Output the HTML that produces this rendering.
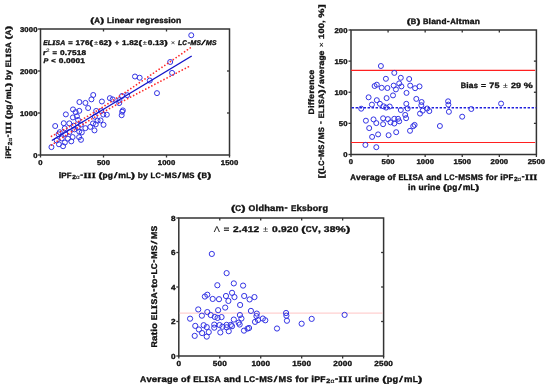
<!DOCTYPE html>
<html><head><meta charset="utf-8"><title>Figure</title>
<style>
html,body{margin:0;padding:0;background:#fff;width:550px;height:387px;overflow:hidden;}
svg{display:block;will-change:transform;}
</style></head><body>
<svg width="550" height="387" viewBox="0 0 550 387" font-family='"Liberation Sans", sans-serif' fill="#111">
<style>text{stroke:#111;stroke-width:0.34px;paint-order:stroke;text-rendering:geometricPrecision;}</style>
<rect width="550" height="387" fill="#fff"/>
<rect x="40.50" y="29.00" width="189.00" height="126.00" fill="none" stroke="#333333" stroke-width="1.5"/>
<line x1="38.00" y1="155.00" x2="40.50" y2="155.00" stroke="#333333" stroke-width="1.3"/>
<line x1="38.00" y1="113.00" x2="40.50" y2="113.00" stroke="#333333" stroke-width="1.3"/>
<line x1="38.00" y1="71.00" x2="40.50" y2="71.00" stroke="#333333" stroke-width="1.3"/>
<line x1="38.00" y1="29.00" x2="40.50" y2="29.00" stroke="#333333" stroke-width="1.3"/>
<line x1="40.50" y1="155.00" x2="40.50" y2="157.50" stroke="#333333" stroke-width="1.3"/>
<line x1="103.50" y1="155.00" x2="103.50" y2="157.50" stroke="#333333" stroke-width="1.3"/>
<line x1="166.50" y1="155.00" x2="166.50" y2="157.50" stroke="#333333" stroke-width="1.3"/>
<line x1="229.50" y1="155.00" x2="229.50" y2="157.50" stroke="#333333" stroke-width="1.3"/>
<line x1="103.50" y1="29.00" x2="103.50" y2="31.50" stroke="#333333" stroke-width="1.3"/>
<line x1="166.50" y1="29.00" x2="166.50" y2="31.50" stroke="#333333" stroke-width="1.3"/>
<line x1="227.00" y1="113.00" x2="229.50" y2="113.00" stroke="#333333" stroke-width="1.3"/>
<line x1="227.00" y1="71.00" x2="229.50" y2="71.00" stroke="#333333" stroke-width="1.3"/>
<g transform="translate(37.20 157.75)" font-size="7.0" font-weight="bold"><text transform="translate(-4.03 0.00) scale(1.098 1)">0</text></g>
<g transform="translate(37.20 115.75)" font-size="7.0" font-weight="bold"><text transform="translate(-17.26 0.00) scale(1.098 1)">1</text><text transform="translate(-12.85 0.00) scale(1.098 1)">0</text><text transform="translate(-8.44 0.00) scale(1.098 1)">0</text><text transform="translate(-4.03 0.00) scale(1.098 1)">0</text></g>
<g transform="translate(37.20 73.75)" font-size="7.0" font-weight="bold"><text transform="translate(-17.26 0.00) scale(1.098 1)">2</text><text transform="translate(-12.85 0.00) scale(1.098 1)">0</text><text transform="translate(-8.44 0.00) scale(1.098 1)">0</text><text transform="translate(-4.03 0.00) scale(1.098 1)">0</text></g>
<g transform="translate(37.20 31.75)" font-size="7.0" font-weight="bold"><text transform="translate(-17.26 0.00) scale(1.098 1)">3</text><text transform="translate(-12.85 0.00) scale(1.098 1)">0</text><text transform="translate(-8.44 0.00) scale(1.098 1)">0</text><text transform="translate(-4.03 0.00) scale(1.098 1)">0</text></g>
<g transform="translate(40.50 165.05)" font-size="7.0" font-weight="bold"><text transform="translate(-2.14 0.00) scale(1.098 1)">0</text></g>
<g transform="translate(103.50 165.05)" font-size="7.0" font-weight="bold"><text transform="translate(-6.55 0.00) scale(1.098 1)">5</text><text transform="translate(-2.14 0.00) scale(1.098 1)">0</text><text transform="translate(2.27 0.00) scale(1.098 1)">0</text></g>
<g transform="translate(166.50 165.05)" font-size="7.0" font-weight="bold"><text transform="translate(-8.75 0.00) scale(1.098 1)">1</text><text transform="translate(-4.34 0.00) scale(1.098 1)">0</text><text transform="translate(0.07 0.00) scale(1.098 1)">0</text><text transform="translate(4.47 0.00) scale(1.098 1)">0</text></g>
<g transform="translate(229.50 165.05)" font-size="7.0" font-weight="bold"><text transform="translate(-8.75 0.00) scale(1.098 1)">1</text><text transform="translate(-4.34 0.00) scale(1.098 1)">5</text><text transform="translate(0.07 0.00) scale(1.098 1)">0</text><text transform="translate(4.47 0.00) scale(1.098 1)">0</text></g>
<circle cx="55.19" cy="126.03" r="2.5" fill="none" stroke="#3434e4" stroke-width="1.0"/>
<circle cx="65.85" cy="114.40" r="2.5" fill="none" stroke="#3434e4" stroke-width="1.0"/>
<circle cx="63.74" cy="123.22" r="2.5" fill="none" stroke="#3434e4" stroke-width="1.0"/>
<circle cx="72.99" cy="109.42" r="2.5" fill="none" stroke="#3434e4" stroke-width="1.0"/>
<circle cx="79.42" cy="102.05" r="2.5" fill="none" stroke="#3434e4" stroke-width="1.0"/>
<circle cx="58.54" cy="134.28" r="2.5" fill="none" stroke="#3434e4" stroke-width="1.0"/>
<circle cx="59.76" cy="132.20" r="2.5" fill="none" stroke="#3434e4" stroke-width="1.0"/>
<circle cx="64.72" cy="128.30" r="2.5" fill="none" stroke="#3434e4" stroke-width="1.0"/>
<circle cx="69.31" cy="123.37" r="2.5" fill="none" stroke="#3434e4" stroke-width="1.0"/>
<circle cx="72.90" cy="117.43" r="2.5" fill="none" stroke="#3434e4" stroke-width="1.0"/>
<circle cx="75.63" cy="112.11" r="2.5" fill="none" stroke="#3434e4" stroke-width="1.0"/>
<circle cx="79.29" cy="110.84" r="2.5" fill="none" stroke="#3434e4" stroke-width="1.0"/>
<circle cx="76.90" cy="116.27" r="2.5" fill="none" stroke="#3434e4" stroke-width="1.0"/>
<circle cx="85.42" cy="102.92" r="2.5" fill="none" stroke="#3434e4" stroke-width="1.0"/>
<circle cx="91.41" cy="99.37" r="2.5" fill="none" stroke="#3434e4" stroke-width="1.0"/>
<circle cx="93.22" cy="94.99" r="2.5" fill="none" stroke="#3434e4" stroke-width="1.0"/>
<circle cx="88.14" cy="108.02" r="2.5" fill="none" stroke="#3434e4" stroke-width="1.0"/>
<circle cx="56.66" cy="140.45" r="2.5" fill="none" stroke="#3434e4" stroke-width="1.0"/>
<circle cx="77.99" cy="119.92" r="2.5" fill="none" stroke="#3434e4" stroke-width="1.0"/>
<circle cx="73.58" cy="125.70" r="2.5" fill="none" stroke="#3434e4" stroke-width="1.0"/>
<circle cx="65.22" cy="134.02" r="2.5" fill="none" stroke="#3434e4" stroke-width="1.0"/>
<circle cx="69.61" cy="131.97" r="2.5" fill="none" stroke="#3434e4" stroke-width="1.0"/>
<circle cx="61.78" cy="138.42" r="2.5" fill="none" stroke="#3434e4" stroke-width="1.0"/>
<circle cx="74.44" cy="129.39" r="2.5" fill="none" stroke="#3434e4" stroke-width="1.0"/>
<circle cx="77.67" cy="127.63" r="2.5" fill="none" stroke="#3434e4" stroke-width="1.0"/>
<circle cx="80.90" cy="124.63" r="2.5" fill="none" stroke="#3434e4" stroke-width="1.0"/>
<circle cx="51.45" cy="147.10" r="2.5" fill="none" stroke="#3434e4" stroke-width="1.0"/>
<circle cx="96.19" cy="110.93" r="2.5" fill="none" stroke="#3434e4" stroke-width="1.0"/>
<circle cx="94.87" cy="116.72" r="2.5" fill="none" stroke="#3434e4" stroke-width="1.0"/>
<circle cx="101.24" cy="111.02" r="2.5" fill="none" stroke="#3434e4" stroke-width="1.0"/>
<circle cx="103.30" cy="114.54" r="2.5" fill="none" stroke="#3434e4" stroke-width="1.0"/>
<circle cx="101.90" cy="101.50" r="2.5" fill="none" stroke="#3434e4" stroke-width="1.0"/>
<circle cx="109.87" cy="98.16" r="2.5" fill="none" stroke="#3434e4" stroke-width="1.0"/>
<circle cx="112.64" cy="99.42" r="2.5" fill="none" stroke="#3434e4" stroke-width="1.0"/>
<circle cx="119.46" cy="100.11" r="2.5" fill="none" stroke="#3434e4" stroke-width="1.0"/>
<circle cx="119.22" cy="103.08" r="2.5" fill="none" stroke="#3434e4" stroke-width="1.0"/>
<circle cx="122.02" cy="95.98" r="2.5" fill="none" stroke="#3434e4" stroke-width="1.0"/>
<circle cx="127.16" cy="95.20" r="2.5" fill="none" stroke="#3434e4" stroke-width="1.0"/>
<circle cx="134.98" cy="76.51" r="2.5" fill="none" stroke="#3434e4" stroke-width="1.0"/>
<circle cx="139.66" cy="77.73" r="2.5" fill="none" stroke="#3434e4" stroke-width="1.0"/>
<circle cx="149.79" cy="80.54" r="2.5" fill="none" stroke="#3434e4" stroke-width="1.0"/>
<circle cx="172.07" cy="72.90" r="2.5" fill="none" stroke="#3434e4" stroke-width="1.0"/>
<circle cx="170.20" cy="61.97" r="2.5" fill="none" stroke="#3434e4" stroke-width="1.0"/>
<circle cx="191.26" cy="35.24" r="2.5" fill="none" stroke="#3434e4" stroke-width="1.0"/>
<circle cx="58.94" cy="144.27" r="2.5" fill="none" stroke="#3434e4" stroke-width="1.0"/>
<circle cx="67.95" cy="138.66" r="2.5" fill="none" stroke="#3434e4" stroke-width="1.0"/>
<circle cx="72.64" cy="137.06" r="2.5" fill="none" stroke="#3434e4" stroke-width="1.0"/>
<circle cx="79.18" cy="131.53" r="2.5" fill="none" stroke="#3434e4" stroke-width="1.0"/>
<circle cx="81.77" cy="132.40" r="2.5" fill="none" stroke="#3434e4" stroke-width="1.0"/>
<circle cx="85.37" cy="128.16" r="2.5" fill="none" stroke="#3434e4" stroke-width="1.0"/>
<circle cx="90.31" cy="126.86" r="2.5" fill="none" stroke="#3434e4" stroke-width="1.0"/>
<circle cx="92.97" cy="123.45" r="2.5" fill="none" stroke="#3434e4" stroke-width="1.0"/>
<circle cx="95.75" cy="124.37" r="2.5" fill="none" stroke="#3434e4" stroke-width="1.0"/>
<circle cx="97.58" cy="120.68" r="2.5" fill="none" stroke="#3434e4" stroke-width="1.0"/>
<circle cx="100.56" cy="120.42" r="2.5" fill="none" stroke="#3434e4" stroke-width="1.0"/>
<circle cx="106.82" cy="114.70" r="2.5" fill="none" stroke="#3434e4" stroke-width="1.0"/>
<circle cx="64.87" cy="142.51" r="2.5" fill="none" stroke="#3434e4" stroke-width="1.0"/>
<circle cx="71.28" cy="141.36" r="2.5" fill="none" stroke="#3434e4" stroke-width="1.0"/>
<circle cx="79.11" cy="137.17" r="2.5" fill="none" stroke="#3434e4" stroke-width="1.0"/>
<circle cx="94.48" cy="130.40" r="2.5" fill="none" stroke="#3434e4" stroke-width="1.0"/>
<circle cx="103.54" cy="124.82" r="2.5" fill="none" stroke="#3434e4" stroke-width="1.0"/>
<circle cx="121.66" cy="115.22" r="2.5" fill="none" stroke="#3434e4" stroke-width="1.0"/>
<circle cx="122.16" cy="111.77" r="2.5" fill="none" stroke="#3434e4" stroke-width="1.0"/>
<circle cx="122.87" cy="110.42" r="2.5" fill="none" stroke="#3434e4" stroke-width="1.0"/>
<circle cx="156.97" cy="93.13" r="2.5" fill="none" stroke="#3434e4" stroke-width="1.0"/>
<circle cx="63.08" cy="146.22" r="2.5" fill="none" stroke="#3434e4" stroke-width="1.0"/>
<circle cx="80.97" cy="139.83" r="2.5" fill="none" stroke="#3434e4" stroke-width="1.0"/>
<polyline points="51.50,136.28 55.01,134.41 58.52,132.53 62.02,130.64 65.53,128.74 69.04,126.83 72.55,124.90 76.05,122.95 79.56,120.97 83.07,118.96 86.58,116.92 90.08,114.85 93.59,112.74 97.10,110.59 100.61,108.40 104.11,106.19 107.62,103.94 111.13,101.66 114.64,99.36 118.14,97.05 121.65,94.71 125.16,92.37 128.67,90.01 132.17,87.65 135.68,85.27 139.19,82.89 142.69,80.51 146.20,78.12 149.71,75.73 153.22,73.33 156.72,70.93 160.23,68.53 163.74,66.12 167.25,63.72 170.76,61.31 174.26,58.90 177.77,56.49 181.28,54.07 184.79,51.66 188.29,49.25 191.80,46.83" fill="none" stroke="#ff2a2a" stroke-width="1.75" stroke-dasharray="0.01 3.42" stroke-linecap="round"/>
<polyline points="51.50,145.09 54.97,142.74 58.44,140.41 61.90,138.09 65.37,135.78 68.84,133.48 72.31,131.20 75.77,128.94 79.24,126.70 82.71,124.49 86.17,122.32 89.64,120.17 93.11,118.07 96.58,116.00 100.04,113.96 103.51,111.96 106.98,109.99 110.45,108.05 113.91,106.13 117.38,104.23 120.85,102.34 124.32,100.47 127.78,98.61 131.25,96.75 134.72,94.91 138.19,93.07 141.66,91.24 145.12,89.41 148.59,87.59 152.06,85.77 155.53,83.95 158.99,82.13 162.46,80.32 165.93,78.51 169.39,76.70 172.86,74.90 176.33,73.09 179.80,71.29 183.26,69.48 186.73,67.68 190.20,65.88" fill="none" stroke="#ff2a2a" stroke-width="1.75" stroke-dasharray="0.01 3.42" stroke-linecap="round"/>
<line x1="51.8" y1="140.5" x2="191.7" y2="56.0" stroke="#1414c8" stroke-width="1.45"/>
<g transform="translate(90.50 22.60)" font-size="7.6" font-weight="bold"><text transform="translate(-0.28 0.00) scale(1.550 1)">(</text><text transform="translate(3.83 0.00) scale(1.042 1)">A</text><text transform="translate(9.74 0.00) scale(1.550 1)">)</text><text transform="translate(16.43 0.00) scale(1.011 1)">L</text><text transform="translate(21.24 0.00) scale(1.193 1.035)">i</text><text transform="translate(23.88 0.00) scale(1.130 1.035)">n</text><text transform="translate(29.28 0.00) scale(1.157 1.035)">e</text><text transform="translate(34.33 0.00) scale(1.164 1.035)">a</text><text transform="translate(39.38 0.00) scale(1.238 1.035)">r</text><text transform="translate(45.75 0.00) scale(1.238 1.035)">r</text><text transform="translate(49.55 0.00) scale(1.157 1.035)">e</text><text transform="translate(54.60 0.00) scale(1.109 1.035)">g</text><text transform="translate(59.88 0.00) scale(1.238 1.035)">r</text><text transform="translate(63.68 0.00) scale(1.157 1.035)">e</text><text transform="translate(68.71 0.00) scale(1.034 1.035)">s</text><text transform="translate(73.22 0.00) scale(1.034 1.035)">s</text><text transform="translate(77.69 0.00) scale(1.193 1.035)">i</text><text transform="translate(80.33 0.00) scale(1.090 1.035)">o</text><text transform="translate(85.55 0.00) scale(1.130 1.035)">n</text></g>
<g transform="translate(43.50 45.30)" font-size="6.8" font-weight="bold"><text transform="translate(-0.26 0.00) scale(0.963 1)" font-style="italic">E</text><text transform="translate(4.24 0.00) scale(0.981 1)" font-style="italic">L</text><text transform="translate(8.43 0.00) scale(1.319 1)" font-family="Liberation Serif" font-style="italic">I</text><text transform="translate(12.04 0.00) scale(1.001 1)" font-style="italic">S</text><text transform="translate(16.73 0.00) scale(1.010 1)" font-style="italic">A</text><text transform="translate(24.65 0.00) scale(1.120 1)">=</text><text transform="translate(32.06 0.00) scale(1.202 1)">1</text><text transform="translate(36.75 0.00) scale(1.202 1)">7</text><text transform="translate(41.43 0.00) scale(1.202 1)">6</text><text transform="translate(46.10 0.00) scale(1.533 1)">(</text><text transform="translate(50.40 0.00) scale(1.120 1)" font-weight="normal" style="stroke-width:0.05px">±</text><text transform="translate(55.41 0.00) scale(1.202 1)">6</text><text transform="translate(60.10 0.00) scale(1.202 1)">2</text><text transform="translate(64.77 0.00) scale(1.533 1)">)</text><text transform="translate(71.18 0.00) scale(1.120 1)">+</text><text transform="translate(78.59 0.00) scale(1.202 1)">1</text><text transform="translate(83.24 0.00) scale(1.222 1)">.</text><text transform="translate(85.66 0.00) scale(1.202 1)">8</text><text transform="translate(90.34 0.00) scale(1.202 1)">2</text><text transform="translate(95.01 0.00) scale(1.533 1)">(</text><text transform="translate(99.31 0.00) scale(1.120 1)" font-weight="normal" style="stroke-width:0.05px">±</text><text transform="translate(104.32 0.00) scale(1.202 1)">0</text><text transform="translate(108.98 0.00) scale(1.222 1)">.</text><text transform="translate(111.39 0.00) scale(1.202 1)">1</text><text transform="translate(116.08 0.00) scale(1.202 1)">3</text><text transform="translate(120.75 0.00) scale(1.533 1)">)</text><text transform="translate(127.16 0.00) scale(1.120 1)" font-weight="normal" style="stroke-width:0.05px">×</text><text transform="translate(134.56 0.00) scale(0.981 1)" font-style="italic">L</text><text transform="translate(138.77 0.00) scale(0.943 1)" font-style="italic">C</text><rect x="144.22" y="-2.97" width="2.31" height="1.19"/><text transform="translate(146.72 0.00) scale(1.070 1)" font-style="italic">M</text><text transform="translate(152.95 0.00) scale(1.001 1)" font-style="italic">S</text><text transform="translate(158.37 0.00) scale(1.550 1)" font-weight="normal" font-style="italic" style="stroke-width:0.45px">/</text><text transform="translate(162.19 0.00) scale(1.070 1)" font-style="italic">M</text><text transform="translate(168.42 0.00) scale(1.001 1)" font-style="italic">S</text></g>
<g transform="translate(43.30 55.00)" font-size="6.8" font-weight="bold"><text transform="translate(-0.28 0.00) scale(1.217 1.035)" font-style="italic">r</text><text transform="translate(3.04 -2.60) scale(1.139 1)" font-weight="normal" style="stroke-width:0.12px" font-size="5.09">2</text><text transform="translate(9.27 0.00) scale(1.120 1)">=</text><text transform="translate(16.74 0.00) scale(1.218 1)">0</text><text transform="translate(21.46 0.00) scale(1.238 1)">.</text><text transform="translate(23.91 0.00) scale(1.218 1)">7</text><text transform="translate(28.66 0.00) scale(1.218 1)">5</text><text transform="translate(33.41 0.00) scale(1.218 1)">1</text><text transform="translate(38.16 0.00) scale(1.218 1)">8</text></g>
<g transform="translate(43.80 63.20)" font-size="6.8" font-weight="bold"><text transform="translate(-0.26 0.00) scale(1.051 1)" font-style="italic">P</text><text transform="translate(7.56 0.00) scale(1.120 1)">&lt;</text><text transform="translate(15.05 0.00) scale(1.223 1)">0</text><text transform="translate(19.78 0.00) scale(1.243 1)">.</text><text transform="translate(22.24 0.00) scale(1.223 1)">0</text><text transform="translate(27.01 0.00) scale(1.223 1)">0</text><text transform="translate(31.77 0.00) scale(1.223 1)">0</text><text transform="translate(36.54 0.00) scale(1.223 1)">1</text></g>
<g transform="translate(59.00 177.80)" font-size="7.8" font-weight="bold"><text transform="translate(-0.34 0.00) scale(1.156 1.035)">i</text><text transform="translate(2.29 0.00) scale(1.032 1)">P</text><text transform="translate(7.81 0.00) scale(0.999 1)">F</text><text transform="translate(13.31 1.10) scale(1.122 1)" font-size="5.84">2</text><text transform="translate(17.07 1.10) scale(1.093 1)" font-weight="normal" style="stroke-width:0.12px" font-size="5.84">α</text><rect x="21.31" y="-3.40" width="2.64" height="1.36"/><text transform="translate(24.50 0.00) scale(1.317 1)" font-family="Liberation Serif">I</text><text transform="translate(28.62 0.00) scale(1.317 1)" font-family="Liberation Serif">I</text><text transform="translate(32.75 0.00) scale(1.317 1)" font-family="Liberation Serif">I</text><text transform="translate(39.45 0.00) scale(1.531 1)">(</text><text transform="translate(43.57 0.00) scale(1.074 1.035)">p</text><text transform="translate(48.85 0.00) scale(1.074 1.035)">g</text><text transform="translate(54.97 0.00) scale(1.550 1)" font-weight="normal" style="stroke-width:0.45px">/</text><text transform="translate(59.37 0.00) scale(1.117 1.035)">m</text><text transform="translate(67.31 0.00) scale(0.979 1)">L</text><text transform="translate(72.11 0.00) scale(1.531 1)">)</text><text transform="translate(78.81 0.00) scale(1.074 1.035)">b</text><text transform="translate(84.08 0.00) scale(1.099 1.035)">y</text><text transform="translate(91.57 0.00) scale(0.979 1)">L</text><text transform="translate(96.39 0.00) scale(0.941 1)">C</text><rect x="102.27" y="-3.40" width="2.64" height="1.36"/><text transform="translate(105.51 0.00) scale(1.069 1)">M</text><text transform="translate(112.64 0.00) scale(1.000 1)">S</text><text transform="translate(118.84 0.00) scale(1.550 1)" font-weight="normal" style="stroke-width:0.45px">/</text><text transform="translate(123.23 0.00) scale(1.069 1)">M</text><text transform="translate(130.36 0.00) scale(1.000 1)">S</text><text transform="translate(138.29 0.00) scale(1.531 1)">(</text><text transform="translate(142.41 0.00) scale(0.991 1)">B</text><text transform="translate(148.14 0.00) scale(1.531 1)">)</text></g>
<g transform="translate(10.80 158.40) rotate(-90)" font-size="7.8" font-weight="bold"><text transform="translate(-0.34 0.00) scale(1.150 1.035)">i</text><text transform="translate(2.28 0.00) scale(1.027 1)">P</text><text transform="translate(7.77 0.00) scale(0.994 1)">F</text><text transform="translate(13.24 1.10) scale(1.116 1)" font-size="5.84">2</text><text transform="translate(16.98 1.10) scale(1.087 1)" font-weight="normal" style="stroke-width:0.12px" font-size="5.84">α</text><rect x="21.20" y="-3.38" width="2.63" height="1.35"/><text transform="translate(24.38 0.00) scale(1.311 1)" font-family="Liberation Serif">I</text><text transform="translate(28.48 0.00) scale(1.311 1)" font-family="Liberation Serif">I</text><text transform="translate(32.58 0.00) scale(1.311 1)" font-family="Liberation Serif">I</text><text transform="translate(39.25 0.00) scale(1.523 1)">(</text><text transform="translate(43.35 0.00) scale(1.069 1.035)">p</text><text transform="translate(48.60 0.00) scale(1.069 1.035)">g</text><text transform="translate(54.68 0.00) scale(1.550 1)" font-weight="normal" style="stroke-width:0.45px">/</text><text transform="translate(59.07 0.00) scale(1.112 1.035)">m</text><text transform="translate(66.97 0.00) scale(0.974 1)">L</text><text transform="translate(71.74 0.00) scale(1.523 1)">)</text><text transform="translate(78.41 0.00) scale(1.069 1.035)">b</text><text transform="translate(83.65 0.00) scale(1.094 1.035)">y</text><text transform="translate(91.11 0.00) scale(0.957 1)">E</text><text transform="translate(96.24 0.00) scale(0.974 1)">L</text><text transform="translate(101.02 0.00) scale(1.311 1)" font-family="Liberation Serif">I</text><text transform="translate(105.14 0.00) scale(0.994 1)">S</text><text transform="translate(110.48 0.00) scale(1.004 1)">A</text><text transform="translate(118.85 0.00) scale(1.523 1)">(</text><text transform="translate(122.95 0.00) scale(1.004 1)">A</text><text transform="translate(128.76 0.00) scale(1.523 1)">)</text></g>
<rect x="351.00" y="30.00" width="185.40" height="124.50" fill="none" stroke="#333333" stroke-width="1.5"/>
<line x1="348.50" y1="154.50" x2="351.00" y2="154.50" stroke="#333333" stroke-width="1.3"/>
<line x1="348.50" y1="123.38" x2="351.00" y2="123.38" stroke="#333333" stroke-width="1.3"/>
<line x1="348.50" y1="92.25" x2="351.00" y2="92.25" stroke="#333333" stroke-width="1.3"/>
<line x1="348.50" y1="61.12" x2="351.00" y2="61.12" stroke="#333333" stroke-width="1.3"/>
<line x1="348.50" y1="30.00" x2="351.00" y2="30.00" stroke="#333333" stroke-width="1.3"/>
<line x1="351.00" y1="154.50" x2="351.00" y2="157.00" stroke="#333333" stroke-width="1.3"/>
<line x1="388.08" y1="154.50" x2="388.08" y2="157.00" stroke="#333333" stroke-width="1.3"/>
<line x1="425.16" y1="154.50" x2="425.16" y2="157.00" stroke="#333333" stroke-width="1.3"/>
<line x1="462.24" y1="154.50" x2="462.24" y2="157.00" stroke="#333333" stroke-width="1.3"/>
<line x1="499.32" y1="154.50" x2="499.32" y2="157.00" stroke="#333333" stroke-width="1.3"/>
<line x1="536.40" y1="154.50" x2="536.40" y2="157.00" stroke="#333333" stroke-width="1.3"/>
<line x1="388.08" y1="30.00" x2="388.08" y2="32.50" stroke="#333333" stroke-width="1.3"/>
<line x1="425.16" y1="30.00" x2="425.16" y2="32.50" stroke="#333333" stroke-width="1.3"/>
<line x1="462.24" y1="30.00" x2="462.24" y2="32.50" stroke="#333333" stroke-width="1.3"/>
<line x1="499.32" y1="30.00" x2="499.32" y2="32.50" stroke="#333333" stroke-width="1.3"/>
<line x1="533.90" y1="123.38" x2="536.40" y2="123.38" stroke="#333333" stroke-width="1.3"/>
<line x1="533.90" y1="92.25" x2="536.40" y2="92.25" stroke="#333333" stroke-width="1.3"/>
<line x1="533.90" y1="61.12" x2="536.40" y2="61.12" stroke="#333333" stroke-width="1.3"/>
<g transform="translate(347.30 157.25)" font-size="7.0" font-weight="bold"><text transform="translate(-4.03 0.00) scale(1.098 1)">0</text></g>
<g transform="translate(347.30 126.12)" font-size="7.0" font-weight="bold"><text transform="translate(-8.44 0.00) scale(1.098 1)">5</text><text transform="translate(-4.03 0.00) scale(1.098 1)">0</text></g>
<g transform="translate(347.30 95.00)" font-size="7.0" font-weight="bold"><text transform="translate(-12.85 0.00) scale(1.098 1)">1</text><text transform="translate(-8.44 0.00) scale(1.098 1)">0</text><text transform="translate(-4.03 0.00) scale(1.098 1)">0</text></g>
<g transform="translate(347.30 63.88)" font-size="7.0" font-weight="bold"><text transform="translate(-12.85 0.00) scale(1.098 1)">1</text><text transform="translate(-8.44 0.00) scale(1.098 1)">5</text><text transform="translate(-4.03 0.00) scale(1.098 1)">0</text></g>
<g transform="translate(347.30 32.75)" font-size="7.0" font-weight="bold"><text transform="translate(-12.85 0.00) scale(1.098 1)">2</text><text transform="translate(-8.44 0.00) scale(1.098 1)">0</text><text transform="translate(-4.03 0.00) scale(1.098 1)">0</text></g>
<g transform="translate(351.00 164.25)" font-size="7.0" font-weight="bold"><text transform="translate(-2.14 0.00) scale(1.098 1)">0</text></g>
<g transform="translate(388.08 164.25)" font-size="7.0" font-weight="bold"><text transform="translate(-6.55 0.00) scale(1.098 1)">5</text><text transform="translate(-2.14 0.00) scale(1.098 1)">0</text><text transform="translate(2.27 0.00) scale(1.098 1)">0</text></g>
<g transform="translate(425.16 164.25)" font-size="7.0" font-weight="bold"><text transform="translate(-8.75 0.00) scale(1.098 1)">1</text><text transform="translate(-4.34 0.00) scale(1.098 1)">0</text><text transform="translate(0.07 0.00) scale(1.098 1)">0</text><text transform="translate(4.47 0.00) scale(1.098 1)">0</text></g>
<g transform="translate(462.24 164.25)" font-size="7.0" font-weight="bold"><text transform="translate(-8.75 0.00) scale(1.098 1)">1</text><text transform="translate(-4.34 0.00) scale(1.098 1)">5</text><text transform="translate(0.07 0.00) scale(1.098 1)">0</text><text transform="translate(4.47 0.00) scale(1.098 1)">0</text></g>
<g transform="translate(499.32 164.25)" font-size="7.0" font-weight="bold"><text transform="translate(-8.75 0.00) scale(1.098 1)">2</text><text transform="translate(-4.34 0.00) scale(1.098 1)">0</text><text transform="translate(0.07 0.00) scale(1.098 1)">0</text><text transform="translate(4.47 0.00) scale(1.098 1)">0</text></g>
<g transform="translate(536.40 164.25)" font-size="7.0" font-weight="bold"><text transform="translate(-8.75 0.00) scale(1.098 1)">2</text><text transform="translate(-4.34 0.00) scale(1.098 1)">5</text><text transform="translate(0.07 0.00) scale(1.098 1)">0</text><text transform="translate(4.47 0.00) scale(1.098 1)">0</text></g>
<line x1="351.0" y1="70.4" x2="535.1999999999999" y2="70.4" stroke="#ff2020" stroke-width="1.2"/>
<line x1="351.0" y1="142.5" x2="535.1999999999999" y2="142.5" stroke="#ff2020" stroke-width="1.2"/>
<line x1="351.6" y1="107.8" x2="536.4" y2="107.8" stroke="#2020dd" stroke-width="1.5" stroke-dasharray="2.4 1.6"/>
<circle cx="380.90" cy="66.00" r="2.5" fill="none" stroke="#3434e4" stroke-width="1.0"/>
<circle cx="394.30" cy="72.90" r="2.5" fill="none" stroke="#3434e4" stroke-width="1.0"/>
<circle cx="385.90" cy="78.80" r="2.5" fill="none" stroke="#3434e4" stroke-width="1.0"/>
<circle cx="400.80" cy="77.80" r="2.5" fill="none" stroke="#3434e4" stroke-width="1.0"/>
<circle cx="409.20" cy="79.00" r="2.5" fill="none" stroke="#3434e4" stroke-width="1.0"/>
<circle cx="374.60" cy="86.00" r="2.5" fill="none" stroke="#3434e4" stroke-width="1.0"/>
<circle cx="376.80" cy="84.70" r="2.5" fill="none" stroke="#3434e4" stroke-width="1.0"/>
<circle cx="381.70" cy="87.80" r="2.5" fill="none" stroke="#3434e4" stroke-width="1.0"/>
<circle cx="387.40" cy="88.00" r="2.5" fill="none" stroke="#3434e4" stroke-width="1.0"/>
<circle cx="393.70" cy="85.60" r="2.5" fill="none" stroke="#3434e4" stroke-width="1.0"/>
<circle cx="399.20" cy="83.40" r="2.5" fill="none" stroke="#3434e4" stroke-width="1.0"/>
<circle cx="401.40" cy="86.40" r="2.5" fill="none" stroke="#3434e4" stroke-width="1.0"/>
<circle cx="395.90" cy="89.40" r="2.5" fill="none" stroke="#3434e4" stroke-width="1.0"/>
<circle cx="410.20" cy="85.60" r="2.5" fill="none" stroke="#3434e4" stroke-width="1.0"/>
<circle cx="415.10" cy="88.20" r="2.5" fill="none" stroke="#3434e4" stroke-width="1.0"/>
<circle cx="419.50" cy="86.40" r="2.5" fill="none" stroke="#3434e4" stroke-width="1.0"/>
<circle cx="406.50" cy="92.90" r="2.5" fill="none" stroke="#3434e4" stroke-width="1.0"/>
<circle cx="368.60" cy="97.30" r="2.5" fill="none" stroke="#3434e4" stroke-width="1.0"/>
<circle cx="393.00" cy="95.40" r="2.5" fill="none" stroke="#3434e4" stroke-width="1.0"/>
<circle cx="386.60" cy="98.10" r="2.5" fill="none" stroke="#3434e4" stroke-width="1.0"/>
<circle cx="376.80" cy="100.20" r="2.5" fill="none" stroke="#3434e4" stroke-width="1.0"/>
<circle cx="379.90" cy="103.80" r="2.5" fill="none" stroke="#3434e4" stroke-width="1.0"/>
<circle cx="371.90" cy="104.60" r="2.5" fill="none" stroke="#3434e4" stroke-width="1.0"/>
<circle cx="383.60" cy="106.30" r="2.5" fill="none" stroke="#3434e4" stroke-width="1.0"/>
<circle cx="386.10" cy="107.60" r="2.5" fill="none" stroke="#3434e4" stroke-width="1.0"/>
<circle cx="389.70" cy="106.50" r="2.5" fill="none" stroke="#3434e4" stroke-width="1.0"/>
<circle cx="361.20" cy="108.70" r="2.5" fill="none" stroke="#3434e4" stroke-width="1.0"/>
<circle cx="406.30" cy="103.80" r="2.5" fill="none" stroke="#3434e4" stroke-width="1.0"/>
<circle cx="400.80" cy="110.00" r="2.5" fill="none" stroke="#3434e4" stroke-width="1.0"/>
<circle cx="407.70" cy="108.50" r="2.5" fill="none" stroke="#3434e4" stroke-width="1.0"/>
<circle cx="405.20" cy="114.90" r="2.5" fill="none" stroke="#3434e4" stroke-width="1.0"/>
<circle cx="416.30" cy="98.90" r="2.5" fill="none" stroke="#3434e4" stroke-width="1.0"/>
<circle cx="421.60" cy="102.00" r="2.5" fill="none" stroke="#3434e4" stroke-width="1.0"/>
<circle cx="421.30" cy="105.20" r="2.5" fill="none" stroke="#3434e4" stroke-width="1.0"/>
<circle cx="422.70" cy="110.70" r="2.5" fill="none" stroke="#3434e4" stroke-width="1.0"/>
<circle cx="420.00" cy="113.60" r="2.5" fill="none" stroke="#3434e4" stroke-width="1.0"/>
<circle cx="427.10" cy="108.50" r="2.5" fill="none" stroke="#3434e4" stroke-width="1.0"/>
<circle cx="429.30" cy="111.10" r="2.5" fill="none" stroke="#3434e4" stroke-width="1.0"/>
<circle cx="448.10" cy="101.30" r="2.5" fill="none" stroke="#3434e4" stroke-width="1.0"/>
<circle cx="448.40" cy="104.60" r="2.5" fill="none" stroke="#3434e4" stroke-width="1.0"/>
<circle cx="448.90" cy="111.80" r="2.5" fill="none" stroke="#3434e4" stroke-width="1.0"/>
<circle cx="462.20" cy="116.70" r="2.5" fill="none" stroke="#3434e4" stroke-width="1.0"/>
<circle cx="471.30" cy="109.00" r="2.5" fill="none" stroke="#3434e4" stroke-width="1.0"/>
<circle cx="501.10" cy="103.60" r="2.5" fill="none" stroke="#3434e4" stroke-width="1.0"/>
<circle cx="365.90" cy="120.70" r="2.5" fill="none" stroke="#3434e4" stroke-width="1.0"/>
<circle cx="373.50" cy="119.40" r="2.5" fill="none" stroke="#3434e4" stroke-width="1.0"/>
<circle cx="376.30" cy="123.10" r="2.5" fill="none" stroke="#3434e4" stroke-width="1.0"/>
<circle cx="383.10" cy="118.30" r="2.5" fill="none" stroke="#3434e4" stroke-width="1.0"/>
<circle cx="383.10" cy="124.20" r="2.5" fill="none" stroke="#3434e4" stroke-width="1.0"/>
<circle cx="387.90" cy="119.10" r="2.5" fill="none" stroke="#3434e4" stroke-width="1.0"/>
<circle cx="390.50" cy="122.40" r="2.5" fill="none" stroke="#3434e4" stroke-width="1.0"/>
<circle cx="394.30" cy="118.80" r="2.5" fill="none" stroke="#3434e4" stroke-width="1.0"/>
<circle cx="394.30" cy="123.50" r="2.5" fill="none" stroke="#3434e4" stroke-width="1.0"/>
<circle cx="398.10" cy="118.80" r="2.5" fill="none" stroke="#3434e4" stroke-width="1.0"/>
<circle cx="399.20" cy="121.30" r="2.5" fill="none" stroke="#3434e4" stroke-width="1.0"/>
<circle cx="406.10" cy="118.20" r="2.5" fill="none" stroke="#3434e4" stroke-width="1.0"/>
<circle cx="369.20" cy="128.10" r="2.5" fill="none" stroke="#3434e4" stroke-width="1.0"/>
<circle cx="372.10" cy="136.90" r="2.5" fill="none" stroke="#3434e4" stroke-width="1.0"/>
<circle cx="378.10" cy="134.40" r="2.5" fill="none" stroke="#3434e4" stroke-width="1.0"/>
<circle cx="388.60" cy="135.20" r="2.5" fill="none" stroke="#3434e4" stroke-width="1.0"/>
<circle cx="396.20" cy="132.20" r="2.5" fill="none" stroke="#3434e4" stroke-width="1.0"/>
<circle cx="410.00" cy="130.80" r="2.5" fill="none" stroke="#3434e4" stroke-width="1.0"/>
<circle cx="413.20" cy="126.20" r="2.5" fill="none" stroke="#3434e4" stroke-width="1.0"/>
<circle cx="414.60" cy="124.90" r="2.5" fill="none" stroke="#3434e4" stroke-width="1.0"/>
<circle cx="439.90" cy="126.00" r="2.5" fill="none" stroke="#3434e4" stroke-width="1.0"/>
<circle cx="365.40" cy="144.90" r="2.5" fill="none" stroke="#3434e4" stroke-width="1.0"/>
<circle cx="376.30" cy="147.20" r="2.5" fill="none" stroke="#3434e4" stroke-width="1.0"/>
<g transform="translate(407.00 24.20)" font-size="7.6" font-weight="bold"><text transform="translate(-0.31 0.00) scale(1.545 1)">(</text><text transform="translate(3.75 0.00) scale(1.000 1)">B</text><text transform="translate(9.38 0.00) scale(1.545 1)">)</text><text transform="translate(15.97 0.00) scale(1.000 1)">B</text><text transform="translate(21.58 0.00) scale(1.166 1.035)">l</text><text transform="translate(24.16 0.00) scale(1.138 1.035)">a</text><text transform="translate(29.12 0.00) scale(1.105 1.035)">n</text><text transform="translate(34.41 0.00) scale(1.084 1.035)">d</text><rect x="40.00" y="-3.34" width="2.60" height="1.34"/><text transform="translate(43.17 0.00) scale(1.018 1)">A</text><text transform="translate(48.88 0.00) scale(1.166 1.035)">l</text><text transform="translate(51.44 0.00) scale(1.298 1.035)">t</text><text transform="translate(54.89 0.00) scale(1.128 1.035)">m</text><text transform="translate(62.70 0.00) scale(1.138 1.035)">a</text><text transform="translate(67.66 0.00) scale(1.105 1.035)">n</text></g>
<g transform="translate(461.10 87.80)" font-size="7.6" font-weight="bold"><text transform="translate(-0.28 0.00) scale(0.980 1)">B</text><text transform="translate(5.22 0.00) scale(1.143 1.035)">i</text><text transform="translate(7.74 0.00) scale(1.116 1.035)">a</text><text transform="translate(12.60 0.00) scale(0.990 1.035)">s</text><text transform="translate(20.01 0.00) scale(1.120 1)">=</text><text transform="translate(28.21 0.00) scale(1.187 1)">7</text><text transform="translate(33.39 0.00) scale(1.187 1)">5</text><text transform="translate(41.79 0.00) scale(1.120 1)" font-weight="normal" style="stroke-width:0.05px">±</text><text transform="translate(49.85 0.00) scale(1.187 1)">2</text><text transform="translate(55.02 0.00) scale(1.187 1)">9</text><text transform="translate(62.75 0.00) scale(1.329 1)">%</text></g>
<g transform="translate(313.50 114.20) rotate(-90)" font-size="7.8" font-weight="bold"><text transform="translate(-0.29 0.00) scale(1.107 1)">D</text><text transform="translate(6.08 0.00) scale(1.186 1.035)">i</text><text transform="translate(8.74 0.00) scale(1.221 1.035)">f</text><text transform="translate(12.01 0.00) scale(1.221 1.035)">f</text><text transform="translate(15.31 0.00) scale(1.150 1.035)">e</text><text transform="translate(20.43 0.00) scale(1.230 1.035)">r</text><text transform="translate(24.30 0.00) scale(1.150 1.035)">e</text><text transform="translate(29.45 0.00) scale(1.123 1.035)">n</text><text transform="translate(34.96 0.00) scale(1.019 1.035)">c</text><text transform="translate(39.52 0.00) scale(1.150 1.035)">e</text></g>
<g transform="translate(323.60 178.20) rotate(-90)" font-size="7.8" font-weight="bold"><text transform="translate(-0.31 0.00) scale(1.510 1)">[</text><text transform="translate(3.73 0.00) scale(1.510 1)">(</text><text transform="translate(7.79 0.00) scale(0.966 1)">L</text><text transform="translate(12.54 0.00) scale(0.929 1)">C</text><rect x="18.34" y="-3.35" width="2.61" height="1.34"/><text transform="translate(21.54 0.00) scale(1.054 1)">M</text><text transform="translate(28.57 0.00) scale(0.986 1)">S</text><text transform="translate(34.67 0.00) scale(1.550 1)" font-weight="normal" style="stroke-width:0.45px">/</text><text transform="translate(39.02 0.00) scale(1.054 1)">M</text><text transform="translate(46.05 0.00) scale(0.986 1)">S</text><rect x="54.30" y="-3.35" width="2.61" height="1.34"/><text transform="translate(60.01 0.00) scale(0.949 1)">E</text><text transform="translate(65.09 0.00) scale(0.966 1)">L</text><text transform="translate(69.83 0.00) scale(1.300 1)" font-family="Liberation Serif">I</text><text transform="translate(73.91 0.00) scale(0.986 1)">S</text><text transform="translate(79.21 0.00) scale(0.995 1)">A</text><text transform="translate(84.96 0.00) scale(1.510 1)">)</text><text transform="translate(89.83 0.00) scale(1.550 1)" font-weight="normal" style="stroke-width:0.45px">/</text><text transform="translate(94.15 0.00) scale(1.113 1.035)">a</text><text transform="translate(99.13 0.00) scale(1.083 1.035)">v</text><text transform="translate(103.97 0.00) scale(1.106 1.035)">e</text><text transform="translate(108.90 0.00) scale(1.183 1.035)">r</text><text transform="translate(112.62 0.00) scale(1.113 1.035)">a</text><text transform="translate(117.60 0.00) scale(1.060 1.035)">g</text><text transform="translate(122.80 0.00) scale(1.106 1.035)">e</text><text transform="translate(130.90 0.00) scale(1.120 1)" font-weight="normal" style="stroke-width:0.05px">×</text><text transform="translate(139.31 0.00) scale(1.184 1)">1</text><text transform="translate(144.60 0.00) scale(1.184 1)">0</text><text transform="translate(149.90 0.00) scale(1.184 1)">0</text><text transform="translate(155.16 0.00) scale(1.204 1)">,</text><text transform="translate(160.49 0.00) scale(1.325 1)">%</text><text transform="translate(169.89 0.00) scale(1.510 1)">]</text></g>
<g transform="translate(350.50 179.50)" font-size="8.0" font-weight="bold"><text transform="translate(-0.29 0.00) scale(0.979 1)">A</text><text transform="translate(5.53 0.00) scale(1.065 1.035)">v</text><text transform="translate(10.42 0.00) scale(1.088 1.035)">e</text><text transform="translate(15.39 0.00) scale(1.164 1.035)">r</text><text transform="translate(19.15 0.00) scale(1.095 1.035)">a</text><text transform="translate(24.17 0.00) scale(1.043 1.035)">g</text><text transform="translate(29.42 0.00) scale(1.088 1.035)">e</text><text transform="translate(36.99 0.00) scale(1.025 1.035)">o</text><text transform="translate(42.12 0.00) scale(1.155 1.035)">f</text><text transform="translate(47.89 0.00) scale(0.933 1)">E</text><text transform="translate(53.02 0.00) scale(0.950 1)">L</text><text transform="translate(57.80 0.00) scale(1.279 1)" font-family="Liberation Serif">I</text><text transform="translate(61.92 0.00) scale(0.970 1)">S</text><text transform="translate(67.27 0.00) scale(0.979 1)">A</text><text transform="translate(75.66 0.00) scale(1.095 1.035)">a</text><text transform="translate(80.68 0.00) scale(1.062 1.035)">n</text><text transform="translate(86.03 0.00) scale(1.043 1.035)">d</text><text transform="translate(93.85 0.00) scale(0.950 1)">L</text><text transform="translate(98.65 0.00) scale(0.914 1)">C</text><rect x="104.50" y="-3.38" width="2.63" height="1.35"/><text transform="translate(107.73 0.00) scale(1.037 1)">M</text><text transform="translate(114.82 0.00) scale(0.970 1)">S</text><text transform="translate(120.19 0.00) scale(1.037 1)">M</text><text transform="translate(127.29 0.00) scale(0.970 1)">S</text><text transform="translate(135.16 0.00) scale(1.155 1.035)">f</text><text transform="translate(138.36 0.00) scale(1.025 1.035)">o</text><text transform="translate(143.51 0.00) scale(1.164 1.035)">r</text><text transform="translate(149.80 0.00) scale(1.122 1.035)">i</text><text transform="translate(152.41 0.00) scale(1.002 1)">P</text><text transform="translate(157.91 0.00) scale(0.970 1)">F</text><text transform="translate(163.38 1.10) scale(1.089 1)" font-size="5.99">2</text><text transform="translate(167.12 1.10) scale(1.061 1)" font-weight="normal" style="stroke-width:0.12px" font-size="5.99">α</text><rect x="171.34" y="-3.38" width="2.63" height="1.35"/><text transform="translate(174.52 0.00) scale(1.279 1)" font-family="Liberation Serif">I</text><text transform="translate(178.63 0.00) scale(1.279 1)" font-family="Liberation Serif">I</text><text transform="translate(182.73 0.00) scale(1.279 1)" font-family="Liberation Serif">I</text></g>
<g transform="translate(408.30 189.50)" font-size="8.0" font-weight="bold"><text transform="translate(-0.34 0.00) scale(1.119 1.035)">i</text><text transform="translate(2.27 0.00) scale(1.059 1.035)">n</text><text transform="translate(10.17 0.00) scale(1.059 1.035)">u</text><text transform="translate(15.48 0.00) scale(1.161 1.035)">r</text><text transform="translate(19.19 0.00) scale(1.119 1.035)">i</text><text transform="translate(21.79 0.00) scale(1.059 1.035)">n</text><text transform="translate(27.12 0.00) scale(1.085 1.035)">e</text><text transform="translate(34.65 0.00) scale(1.482 1)">(</text><text transform="translate(38.74 0.00) scale(1.040 1.035)">p</text><text transform="translate(43.98 0.00) scale(1.040 1.035)">g</text><text transform="translate(50.00 0.00) scale(1.550 1)" font-weight="normal" style="stroke-width:0.45px">/</text><text transform="translate(54.42 0.00) scale(1.081 1.035)">m</text><text transform="translate(62.30 0.00) scale(0.948 1)">L</text><text transform="translate(67.07 0.00) scale(1.482 1)">)</text></g>
<rect x="178.80" y="218.00" width="204.80" height="138.00" fill="none" stroke="#333333" stroke-width="1.5"/>
<line x1="176.30" y1="356.00" x2="178.80" y2="356.00" stroke="#333333" stroke-width="1.3"/>
<line x1="176.30" y1="321.50" x2="178.80" y2="321.50" stroke="#333333" stroke-width="1.3"/>
<line x1="176.30" y1="287.00" x2="178.80" y2="287.00" stroke="#333333" stroke-width="1.3"/>
<line x1="176.30" y1="252.50" x2="178.80" y2="252.50" stroke="#333333" stroke-width="1.3"/>
<line x1="176.30" y1="218.00" x2="178.80" y2="218.00" stroke="#333333" stroke-width="1.3"/>
<line x1="178.80" y1="356.00" x2="178.80" y2="358.50" stroke="#333333" stroke-width="1.3"/>
<line x1="219.76" y1="356.00" x2="219.76" y2="358.50" stroke="#333333" stroke-width="1.3"/>
<line x1="260.72" y1="356.00" x2="260.72" y2="358.50" stroke="#333333" stroke-width="1.3"/>
<line x1="301.68" y1="356.00" x2="301.68" y2="358.50" stroke="#333333" stroke-width="1.3"/>
<line x1="342.64" y1="356.00" x2="342.64" y2="358.50" stroke="#333333" stroke-width="1.3"/>
<line x1="383.60" y1="356.00" x2="383.60" y2="358.50" stroke="#333333" stroke-width="1.3"/>
<line x1="219.76" y1="218.00" x2="219.76" y2="220.50" stroke="#333333" stroke-width="1.3"/>
<line x1="260.72" y1="218.00" x2="260.72" y2="220.50" stroke="#333333" stroke-width="1.3"/>
<line x1="301.68" y1="218.00" x2="301.68" y2="220.50" stroke="#333333" stroke-width="1.3"/>
<line x1="342.64" y1="218.00" x2="342.64" y2="220.50" stroke="#333333" stroke-width="1.3"/>
<line x1="381.10" y1="321.50" x2="383.60" y2="321.50" stroke="#333333" stroke-width="1.3"/>
<line x1="381.10" y1="287.00" x2="383.60" y2="287.00" stroke="#333333" stroke-width="1.3"/>
<line x1="381.10" y1="252.50" x2="383.60" y2="252.50" stroke="#333333" stroke-width="1.3"/>
<g transform="translate(175.20 358.75)" font-size="7.4" font-weight="bold"><text transform="translate(-4.29 0.00) scale(1.106 1)">0</text></g>
<g transform="translate(175.20 324.25)" font-size="7.4" font-weight="bold"><text transform="translate(-4.29 0.00) scale(1.106 1)">2</text></g>
<g transform="translate(175.20 289.75)" font-size="7.4" font-weight="bold"><text transform="translate(-4.29 0.00) scale(1.106 1)">4</text></g>
<g transform="translate(175.20 255.25)" font-size="7.4" font-weight="bold"><text transform="translate(-4.29 0.00) scale(1.106 1)">6</text></g>
<g transform="translate(175.20 220.75)" font-size="7.4" font-weight="bold"><text transform="translate(-4.29 0.00) scale(1.106 1)">8</text></g>
<g transform="translate(178.80 366.45)" font-size="7.4" font-weight="bold"><text transform="translate(-2.28 0.00) scale(1.106 1)">0</text></g>
<g transform="translate(219.76 366.45)" font-size="7.4" font-weight="bold"><text transform="translate(-6.97 0.00) scale(1.106 1)">5</text><text transform="translate(-2.28 0.00) scale(1.106 1)">0</text><text transform="translate(2.42 0.00) scale(1.106 1)">0</text></g>
<g transform="translate(260.72 366.45)" font-size="7.4" font-weight="bold"><text transform="translate(-9.31 0.00) scale(1.106 1)">1</text><text transform="translate(-4.62 0.00) scale(1.106 1)">0</text><text transform="translate(0.07 0.00) scale(1.106 1)">0</text><text transform="translate(4.76 0.00) scale(1.106 1)">0</text></g>
<g transform="translate(301.68 366.45)" font-size="7.4" font-weight="bold"><text transform="translate(-9.31 0.00) scale(1.106 1)">1</text><text transform="translate(-4.62 0.00) scale(1.106 1)">5</text><text transform="translate(0.07 0.00) scale(1.106 1)">0</text><text transform="translate(4.76 0.00) scale(1.106 1)">0</text></g>
<g transform="translate(342.64 366.45)" font-size="7.4" font-weight="bold"><text transform="translate(-9.31 0.00) scale(1.106 1)">2</text><text transform="translate(-4.62 0.00) scale(1.106 1)">0</text><text transform="translate(0.07 0.00) scale(1.106 1)">0</text><text transform="translate(4.76 0.00) scale(1.106 1)">0</text></g>
<g transform="translate(383.60 366.45)" font-size="7.4" font-weight="bold"><text transform="translate(-9.31 0.00) scale(1.106 1)">2</text><text transform="translate(-4.62 0.00) scale(1.106 1)">5</text><text transform="translate(0.07 0.00) scale(1.106 1)">0</text><text transform="translate(4.76 0.00) scale(1.106 1)">0</text></g>
<line x1="179.60000000000002" y1="313.1" x2="382.8" y2="313.1" stroke="#ffc4c4" stroke-width="1"/>
<circle cx="211.83" cy="253.94" r="2.6" fill="none" stroke="#3434e4" stroke-width="1.0"/>
<circle cx="226.63" cy="273.13" r="2.6" fill="none" stroke="#3434e4" stroke-width="1.0"/>
<circle cx="217.35" cy="285.23" r="2.6" fill="none" stroke="#3434e4" stroke-width="1.0"/>
<circle cx="233.81" cy="283.39" r="2.6" fill="none" stroke="#3434e4" stroke-width="1.0"/>
<circle cx="243.09" cy="285.59" r="2.6" fill="none" stroke="#3434e4" stroke-width="1.0"/>
<circle cx="204.87" cy="296.55" r="2.6" fill="none" stroke="#3434e4" stroke-width="1.0"/>
<circle cx="207.30" cy="294.73" r="2.6" fill="none" stroke="#3434e4" stroke-width="1.0"/>
<circle cx="212.71" cy="298.94" r="2.6" fill="none" stroke="#3434e4" stroke-width="1.0"/>
<circle cx="219.01" cy="299.19" r="2.6" fill="none" stroke="#3434e4" stroke-width="1.0"/>
<circle cx="225.97" cy="296.00" r="2.6" fill="none" stroke="#3434e4" stroke-width="1.0"/>
<circle cx="232.04" cy="292.81" r="2.6" fill="none" stroke="#3434e4" stroke-width="1.0"/>
<circle cx="234.47" cy="297.09" r="2.6" fill="none" stroke="#3434e4" stroke-width="1.0"/>
<circle cx="228.40" cy="300.94" r="2.6" fill="none" stroke="#3434e4" stroke-width="1.0"/>
<circle cx="244.19" cy="296.00" r="2.6" fill="none" stroke="#3434e4" stroke-width="1.0"/>
<circle cx="249.61" cy="299.45" r="2.6" fill="none" stroke="#3434e4" stroke-width="1.0"/>
<circle cx="254.47" cy="297.09" r="2.6" fill="none" stroke="#3434e4" stroke-width="1.0"/>
<circle cx="240.11" cy="304.96" r="2.6" fill="none" stroke="#3434e4" stroke-width="1.0"/>
<circle cx="198.24" cy="309.43" r="2.6" fill="none" stroke="#3434e4" stroke-width="1.0"/>
<circle cx="225.19" cy="307.57" r="2.6" fill="none" stroke="#3434e4" stroke-width="1.0"/>
<circle cx="218.13" cy="310.18" r="2.6" fill="none" stroke="#3434e4" stroke-width="1.0"/>
<circle cx="207.30" cy="312.06" r="2.6" fill="none" stroke="#3434e4" stroke-width="1.0"/>
<circle cx="210.72" cy="315.05" r="2.6" fill="none" stroke="#3434e4" stroke-width="1.0"/>
<circle cx="201.89" cy="315.67" r="2.6" fill="none" stroke="#3434e4" stroke-width="1.0"/>
<circle cx="214.81" cy="316.96" r="2.6" fill="none" stroke="#3434e4" stroke-width="1.0"/>
<circle cx="217.57" cy="317.90" r="2.6" fill="none" stroke="#3434e4" stroke-width="1.0"/>
<circle cx="221.55" cy="317.10" r="2.6" fill="none" stroke="#3434e4" stroke-width="1.0"/>
<circle cx="190.07" cy="318.67" r="2.6" fill="none" stroke="#3434e4" stroke-width="1.0"/>
<circle cx="239.89" cy="315.05" r="2.6" fill="none" stroke="#3434e4" stroke-width="1.0"/>
<circle cx="233.81" cy="319.56" r="2.6" fill="none" stroke="#3434e4" stroke-width="1.0"/>
<circle cx="241.43" cy="318.53" r="2.6" fill="none" stroke="#3434e4" stroke-width="1.0"/>
<circle cx="238.67" cy="322.66" r="2.6" fill="none" stroke="#3434e4" stroke-width="1.0"/>
<circle cx="250.93" cy="310.91" r="2.6" fill="none" stroke="#3434e4" stroke-width="1.0"/>
<circle cx="256.79" cy="313.59" r="2.6" fill="none" stroke="#3434e4" stroke-width="1.0"/>
<circle cx="256.46" cy="316.13" r="2.6" fill="none" stroke="#3434e4" stroke-width="1.0"/>
<circle cx="258.00" cy="320.03" r="2.6" fill="none" stroke="#3434e4" stroke-width="1.0"/>
<circle cx="255.02" cy="321.87" r="2.6" fill="none" stroke="#3434e4" stroke-width="1.0"/>
<circle cx="262.86" cy="318.53" r="2.6" fill="none" stroke="#3434e4" stroke-width="1.0"/>
<circle cx="265.29" cy="320.29" r="2.6" fill="none" stroke="#3434e4" stroke-width="1.0"/>
<circle cx="286.06" cy="313.01" r="2.6" fill="none" stroke="#3434e4" stroke-width="1.0"/>
<circle cx="286.39" cy="315.67" r="2.6" fill="none" stroke="#3434e4" stroke-width="1.0"/>
<circle cx="286.94" cy="320.74" r="2.6" fill="none" stroke="#3434e4" stroke-width="1.0"/>
<circle cx="301.64" cy="323.71" r="2.6" fill="none" stroke="#3434e4" stroke-width="1.0"/>
<circle cx="311.69" cy="318.88" r="2.6" fill="none" stroke="#3434e4" stroke-width="1.0"/>
<circle cx="344.61" cy="314.89" r="2.6" fill="none" stroke="#3434e4" stroke-width="1.0"/>
<circle cx="195.26" cy="325.89" r="2.6" fill="none" stroke="#3434e4" stroke-width="1.0"/>
<circle cx="203.65" cy="325.20" r="2.6" fill="none" stroke="#3434e4" stroke-width="1.0"/>
<circle cx="206.75" cy="327.11" r="2.6" fill="none" stroke="#3434e4" stroke-width="1.0"/>
<circle cx="214.26" cy="324.61" r="2.6" fill="none" stroke="#3434e4" stroke-width="1.0"/>
<circle cx="214.26" cy="327.65" r="2.6" fill="none" stroke="#3434e4" stroke-width="1.0"/>
<circle cx="219.56" cy="325.04" r="2.6" fill="none" stroke="#3434e4" stroke-width="1.0"/>
<circle cx="222.43" cy="326.76" r="2.6" fill="none" stroke="#3434e4" stroke-width="1.0"/>
<circle cx="226.63" cy="324.88" r="2.6" fill="none" stroke="#3434e4" stroke-width="1.0"/>
<circle cx="226.63" cy="327.31" r="2.6" fill="none" stroke="#3434e4" stroke-width="1.0"/>
<circle cx="230.83" cy="324.88" r="2.6" fill="none" stroke="#3434e4" stroke-width="1.0"/>
<circle cx="232.04" cy="326.20" r="2.6" fill="none" stroke="#3434e4" stroke-width="1.0"/>
<circle cx="239.67" cy="324.55" r="2.6" fill="none" stroke="#3434e4" stroke-width="1.0"/>
<circle cx="198.90" cy="329.47" r="2.6" fill="none" stroke="#3434e4" stroke-width="1.0"/>
<circle cx="202.11" cy="333.07" r="2.6" fill="none" stroke="#3434e4" stroke-width="1.0"/>
<circle cx="208.74" cy="332.11" r="2.6" fill="none" stroke="#3434e4" stroke-width="1.0"/>
<circle cx="220.33" cy="332.42" r="2.6" fill="none" stroke="#3434e4" stroke-width="1.0"/>
<circle cx="228.73" cy="331.22" r="2.6" fill="none" stroke="#3434e4" stroke-width="1.0"/>
<circle cx="243.97" cy="330.64" r="2.6" fill="none" stroke="#3434e4" stroke-width="1.0"/>
<circle cx="247.51" cy="328.60" r="2.6" fill="none" stroke="#3434e4" stroke-width="1.0"/>
<circle cx="249.06" cy="327.99" r="2.6" fill="none" stroke="#3434e4" stroke-width="1.0"/>
<circle cx="277.00" cy="328.51" r="2.6" fill="none" stroke="#3434e4" stroke-width="1.0"/>
<circle cx="194.71" cy="335.87" r="2.6" fill="none" stroke="#3434e4" stroke-width="1.0"/>
<circle cx="206.75" cy="336.60" r="2.6" fill="none" stroke="#3434e4" stroke-width="1.0"/>
<g transform="translate(231.20 210.90)" font-size="8.3" font-weight="bold"><text transform="translate(-0.32 0.00) scale(1.550 1)">(</text><text transform="translate(4.14 0.00) scale(0.964 1)">C</text><text transform="translate(10.10 0.00) scale(1.550 1)">)</text><text transform="translate(17.39 0.00) scale(1.050 1)">O</text><text transform="translate(24.32 0.00) scale(1.183 1.035)">l</text><text transform="translate(27.18 0.00) scale(1.100 1.035)">d</text><text transform="translate(32.93 0.00) scale(1.120 1.035)">h</text><text transform="translate(38.78 0.00) scale(1.155 1.035)">a</text><text transform="translate(44.33 0.00) scale(1.144 1.035)">m</text><rect x="53.43" y="-3.70" width="2.88" height="1.48"/><text transform="translate(59.74 0.00) scale(0.984 1)">E</text><text transform="translate(65.36 0.00) scale(1.160 1.035)">k</text><text transform="translate(70.87 0.00) scale(1.025 1.035)">s</text><text transform="translate(75.76 0.00) scale(1.100 1.035)">b</text><text transform="translate(81.51 0.00) scale(1.081 1.035)">o</text><text transform="translate(87.14 0.00) scale(1.228 1.035)">r</text><text transform="translate(91.25 0.00) scale(1.100 1.035)">g</text></g>
<g transform="translate(214.10 231.60)" font-size="8.3" font-weight="bold"><text transform="translate(-0.32 0.00) scale(1.118 1)" font-weight="normal" style="stroke-width:0.05px">Λ</text><text transform="translate(9.65 0.00) scale(1.120 1)">=</text><text transform="translate(18.84 0.00) scale(1.230 1)">2</text><text transform="translate(24.65 0.00) scale(1.251 1)">.</text><text transform="translate(27.67 0.00) scale(1.230 1)">4</text><text transform="translate(33.53 0.00) scale(1.230 1)">1</text><text transform="translate(39.38 0.00) scale(1.230 1)">2</text><text transform="translate(48.98 0.00) scale(1.120 1)" font-weight="normal" style="stroke-width:0.05px">±</text><text transform="translate(58.01 0.00) scale(1.230 1)">0</text><text transform="translate(63.82 0.00) scale(1.251 1)">.</text><text transform="translate(66.84 0.00) scale(1.230 1)">9</text><text transform="translate(72.70 0.00) scale(1.230 1)">2</text><text transform="translate(78.55 0.00) scale(1.230 1)">0</text><text transform="translate(87.23 0.00) scale(1.550 1)">(</text><text transform="translate(91.70 0.00) scale(0.965 1)">C</text><text transform="translate(97.66 0.00) scale(1.102 1)">V</text><text transform="translate(103.91 0.00) scale(1.251 1)">,</text><text transform="translate(109.74 0.00) scale(1.230 1)">3</text><text transform="translate(115.60 0.00) scale(1.230 1)">8</text><text transform="translate(121.52 0.00) scale(1.377 1)">%</text><text transform="translate(131.93 0.00) scale(1.550 1)">)</text></g>
<g transform="translate(157.00 347.30) rotate(-90)" font-size="8.3" font-weight="bold"><text transform="translate(-0.32 0.00) scale(1.060 1)">R</text><text transform="translate(6.22 0.00) scale(1.176 1.035)">a</text><text transform="translate(11.79 0.00) scale(1.341 1.035)">t</text><text transform="translate(15.59 0.00) scale(1.205 1.035)">i</text><text transform="translate(18.50 0.00) scale(1.101 1.035)">o</text><text transform="translate(27.12 0.00) scale(1.003 1)">E</text><text transform="translate(32.84 0.00) scale(1.021 1)">L</text><text transform="translate(38.16 0.00) scale(1.374 1)" font-family="Liberation Serif">I</text><text transform="translate(42.76 0.00) scale(1.042 1)">S</text><text transform="translate(48.72 0.00) scale(1.052 1)">A</text><rect x="55.66" y="-3.77" width="2.93" height="1.51"/><text transform="translate(59.20 0.00) scale(1.341 1.035)">t</text><text transform="translate(63.05 0.00) scale(1.101 1.035)">o</text><rect x="69.26" y="-3.77" width="2.93" height="1.51"/><text transform="translate(72.82 0.00) scale(1.021 1)">L</text><text transform="translate(78.17 0.00) scale(0.982 1)">C</text><rect x="84.69" y="-3.77" width="2.93" height="1.51"/><text transform="translate(88.28 0.00) scale(1.114 1)">M</text><text transform="translate(96.20 0.00) scale(1.042 1)">S</text><text transform="translate(103.15 0.00) scale(1.550 1)" font-weight="normal" style="stroke-width:0.45px">/</text><text transform="translate(107.95 0.00) scale(1.114 1)">M</text><text transform="translate(115.86 0.00) scale(1.042 1)">S</text></g>
<g transform="translate(140.30 382.00)" font-size="8.3" font-weight="bold"><text transform="translate(-0.32 0.00) scale(1.042 1)">A</text><text transform="translate(6.10 0.00) scale(1.133 1.035)">v</text><text transform="translate(11.49 0.00) scale(1.157 1.035)">e</text><text transform="translate(16.98 0.00) scale(1.238 1.035)">r</text><text transform="translate(21.12 0.00) scale(1.164 1.035)">a</text><text transform="translate(26.67 0.00) scale(1.109 1.035)">g</text><text transform="translate(32.46 0.00) scale(1.157 1.035)">e</text><text transform="translate(40.81 0.00) scale(1.090 1.035)">o</text><text transform="translate(46.47 0.00) scale(1.228 1.035)">f</text><text transform="translate(52.84 0.00) scale(0.993 1)">E</text><text transform="translate(58.50 0.00) scale(1.011 1)">L</text><text transform="translate(63.77 0.00) scale(1.360 1)" font-family="Liberation Serif">I</text><text transform="translate(68.32 0.00) scale(1.032 1)">S</text><text transform="translate(74.22 0.00) scale(1.042 1)">A</text><text transform="translate(83.48 0.00) scale(1.164 1.035)">a</text><text transform="translate(89.02 0.00) scale(1.130 1.035)">n</text><text transform="translate(94.92 0.00) scale(1.109 1.035)">d</text><text transform="translate(103.55 0.00) scale(1.011 1)">L</text><text transform="translate(108.84 0.00) scale(0.972 1)">C</text><rect x="115.30" y="-3.73" width="2.90" height="1.49"/><text transform="translate(118.86 0.00) scale(1.103 1)">M</text><text transform="translate(126.69 0.00) scale(1.032 1)">S</text><text transform="translate(133.56 0.00) scale(1.550 1)" font-weight="normal" style="stroke-width:0.45px">/</text><text transform="translate(138.32 0.00) scale(1.103 1)">M</text><text transform="translate(146.16 0.00) scale(1.032 1)">S</text><text transform="translate(154.85 0.00) scale(1.228 1.035)">f</text><text transform="translate(158.38 0.00) scale(1.090 1.035)">o</text><text transform="translate(164.05 0.00) scale(1.238 1.035)">r</text><text transform="translate(170.99 0.00) scale(1.193 1.035)">i</text><text transform="translate(173.88 0.00) scale(1.065 1)">P</text><text transform="translate(179.95 0.00) scale(1.031 1)">F</text><text transform="translate(185.98 1.10) scale(1.158 1)" font-size="6.22">2</text><text transform="translate(190.11 1.10) scale(1.128 1)" font-weight="normal" style="stroke-width:0.12px" font-size="6.22">α</text><rect x="194.77" y="-3.73" width="2.90" height="1.49"/><text transform="translate(198.28 0.00) scale(1.360 1)" font-family="Liberation Serif">I</text><text transform="translate(202.80 0.00) scale(1.360 1)" font-family="Liberation Serif">I</text><text transform="translate(207.33 0.00) scale(1.360 1)" font-family="Liberation Serif">I</text><text transform="translate(214.72 0.00) scale(1.130 1.035)">u</text><text transform="translate(220.60 0.00) scale(1.238 1.035)">r</text><text transform="translate(224.70 0.00) scale(1.193 1.035)">i</text><text transform="translate(227.58 0.00) scale(1.130 1.035)">n</text><text transform="translate(233.48 0.00) scale(1.157 1.035)">e</text><text transform="translate(241.85 0.00) scale(1.550 1)">(</text><text transform="translate(246.33 0.00) scale(1.109 1.035)">p</text><text transform="translate(252.13 0.00) scale(1.109 1.035)">g</text><text transform="translate(258.91 0.00) scale(1.550 1)" font-weight="normal" style="stroke-width:0.45px">/</text><text transform="translate(263.69 0.00) scale(1.153 1.035)">m</text><text transform="translate(272.41 0.00) scale(1.011 1)">L</text><text transform="translate(277.72 0.00) scale(1.550 1)">)</text></g>
</svg>
</body></html>
